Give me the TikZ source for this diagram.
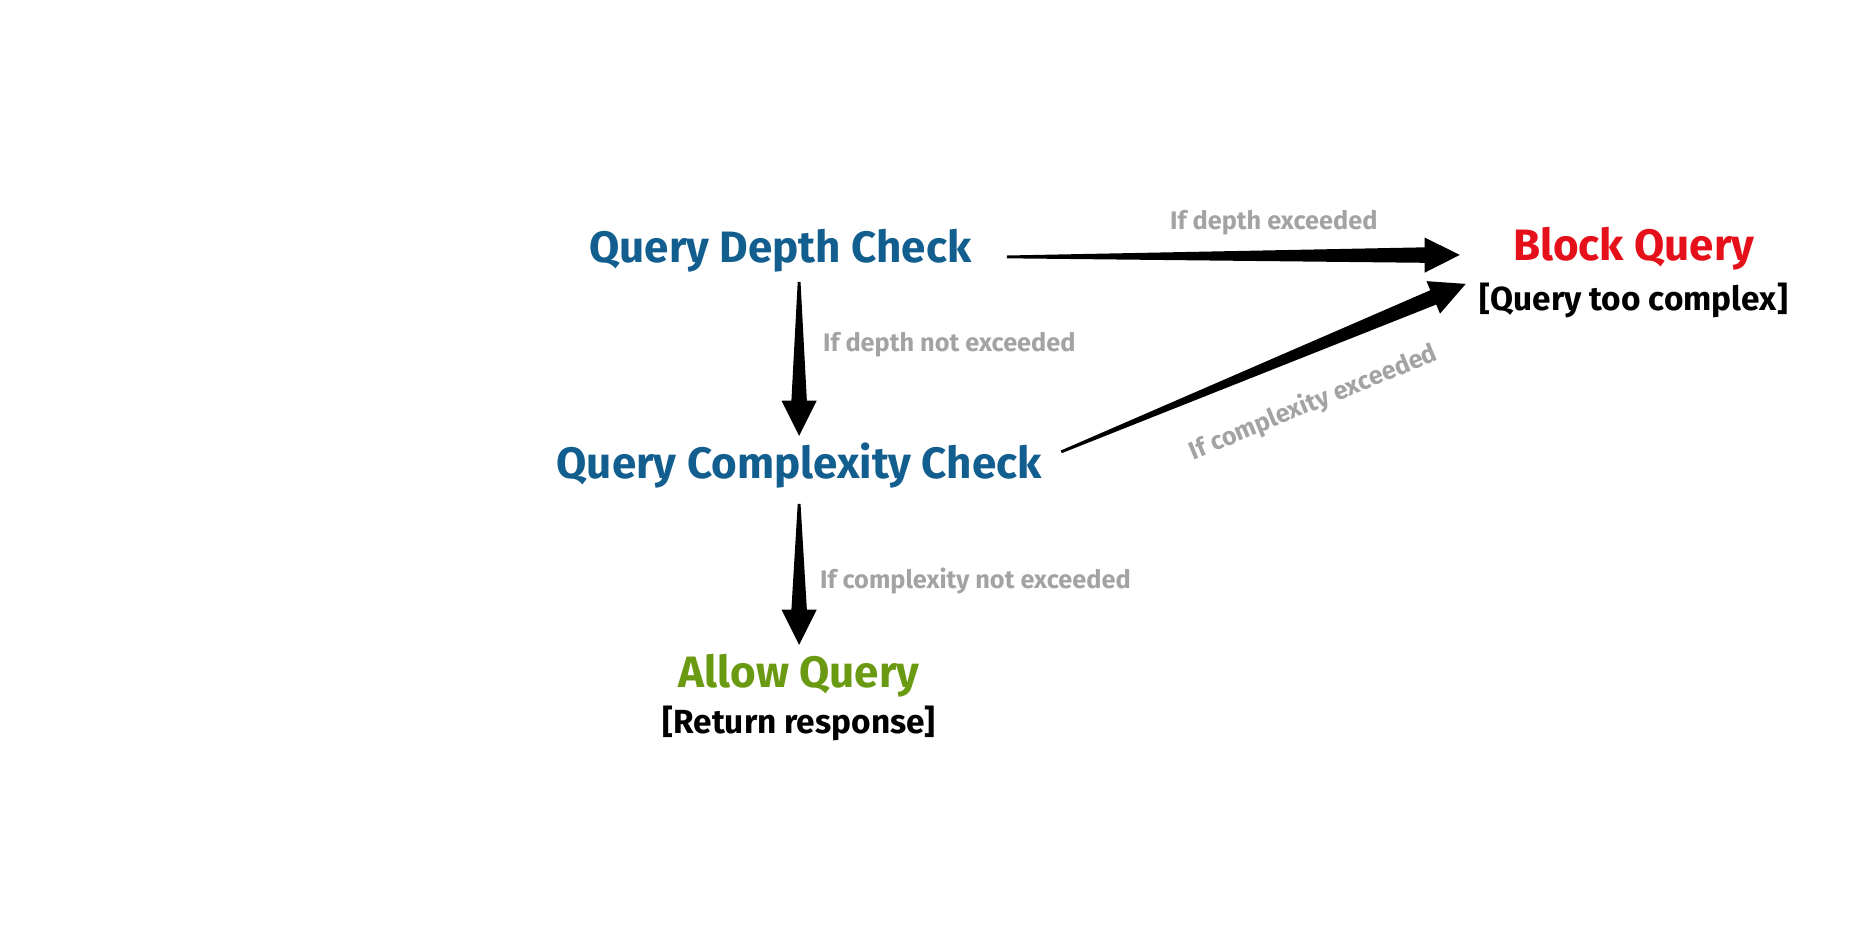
\documentclass[tikz,border=0pt]{standalone}
\usepackage{fontspec}
\setmainfont{Fira Sans}
\usetikzlibrary{calc}
\definecolor{qblue}{HTML}{125E8E}
\definecolor{qred}{HTML}{E5101A}
\definecolor{qgreen}{HTML}{6A9A12}
\definecolor{qgray}{HTML}{A3A3A3}
\tikzset{
 title/.style={font=\fontsize{12.5}{14}\selectfont\bfseries, inner sep=1pt},
 sub/.style={font=\fontsize{9.5}{11}\selectfont\bfseries, text=black, inner sep=1pt},
 lab/.style={font=\fontsize{7.2}{9}\selectfont\bfseries, text=qgray, inner sep=1pt},
}
\newcommand\taparrow[2]{%
 \fill let \p1=(#1), \p2=(#2), \n1={atan2(\y2-\y1,\x2-\x1)} in
  ($(\p1)+(\n1+90:0.4pt)$) -- ($(\p2)+(\n1:-10pt)+(\n1+90:2.2pt)$) --
  ($(\p2)+(\n1:-10pt)+(\n1+90:5pt)$) -- (\p2) --
  ($(\p2)+(\n1:-10pt)+(\n1-90:5pt)$) -- ($(\p2)+(\n1:-10pt)+(\n1-90:2.2pt)$) --
  ($(\p1)+(\n1-90:0.4pt)$) -- cycle;}
\begin{document}
\begin{tikzpicture}[x=0.00989cm,y=0.01cm]
\useasboundingbox (0,0) rectangle (1873.6,951);
\node[title,text=qblue] (depth) at (789,700) {Query Depth Check};
\node[title,text=qblue] (cplx) at (808,485) {Query Complexity Check};
\node[title,text=qred] (block) at (1652,702) {Block Query};
\node[sub] (blocksub) at (1652,650) {[Query too complex]};
\node[title,text=qgreen] (allow) at (808,275) {Allow Query};
\node[sub] (allowsub) at (808,227) {[Return response]};
\coordinate (bl1) at (1476,696);
\coordinate (bl2) at (1482,667);
\taparrow{1018,694}{bl1}
\taparrow{808,669}{808,515}
\taparrow{1073,499}{bl2}
\taparrow{808,447}{808,306}
\node[lab] (l1) at (1288,728) {If depth exceeded};
\node[lab,anchor=west] (l2) at (828,606) {If depth not exceeded};
\node[lab,rotate=22.3] (l3) at (1328,548) {If complexity exceeded};
\node[lab,anchor=west] (l4) at (825,370) {If complexity not exceeded};
\end{tikzpicture}
\end{document}
